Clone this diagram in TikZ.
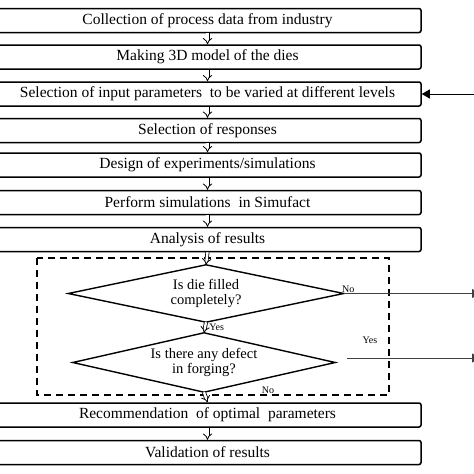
\documentclass[tikz,border=0pt]{standalone}
\usepackage{fontspec}
\setmainfont{Liberation Serif}
\usetikzlibrary{arrows.meta}
\begin{document}
\begin{tikzpicture}[x=1pt,y=-1pt,
  stepbox/.style={draw, line width=1.5pt, rounded corners=2pt, minimum width=427pt, minimum height=24pt, inner sep=0pt, font=\fontsize{15.5}{17}\selectfont},
  decision/.style={rectangle, inner sep=0pt, align=center, font=\fontsize{14.5}{15}\selectfont},
  hollow/.style={double, double distance=2.4pt, line width=0.8pt, -{Implies[length=1.6pt,width=5pt]}},
  outarrow/.style={line width=1pt, draw=black!75, -{Triangle[length=8pt,width=9pt]}},
  lbl/.style={font=\fontsize{10}{11}\selectfont, inner sep=1pt}]
\useasboundingbox (0,0) rectangle (474,474);
\clip (0,0) rectangle (474,474);
\fill[white] (0,0) rectangle (474,474);
\node[stepbox] (b1) at (207.5,20.5) {Collection of process data from industry};
\node[stepbox] (b2) at (207.5,57) {Making 3D model of the dies};
\node[stepbox] (b3) at (207.5,94) {Selection of input parameters\ \ to be varied at different levels};
\node[stepbox] (b4) at (207.5,130.5) {Selection of responses};
\node[stepbox] (b5) at (207.5,165) {Design of experiments/simulations};
\node[stepbox] (b6) at (207.5,202.5) {Perform simulations\ \ in Simufact};
\node[stepbox] (b7) at (207.5,239.5) {Analysis of results};
\node[stepbox] (b8) at (207.5,415) {Recommendation\ \ of optimal\ \ parameters};
\node[stepbox] (b9) at (207.5,452.5) {Validation of results};
\draw[line width=1.3pt, dash pattern=on 7pt off 5pt] (37,258) rectangle (389,395);
\node[decision, minimum width=275pt, minimum height=57pt] (d1) at (206,293.5) {Is die filled\\completely?};
\node[decision, minimum width=262pt, minimum height=59pt] (d2) at (204,362.5) {Is there any defect\\in forging?};
\draw[line width=1.4pt, line join=miter] (d1.west) -- (d1.north) -- (d1.east) -- (d1.south) -- cycle;
\draw[line width=1.4pt, line join=miter] (d2.west) -- (d2.north) -- (d2.east) -- (d2.south) -- cycle;
\foreach \a/\b in {b1/b2,b2/b3,b3/b4,b4/b5,b5/b6,b6/b7} \draw[hollow] (\a.south) -- (\b.north);
\draw[hollow] (b7.south) -- (d1.north);
\draw[hollow] (d1.south) -- (d2.north) node[lbl, midway, right=3pt] {Yes};
\draw[hollow] (d2.south) -- (b8.north);
\draw[hollow] (b8.south) -- (b9.north);
\node[lbl] (no2) at (268,390) {No};
\node[lbl, anchor=south west] (no1) at (341,294) {No};
\node[lbl] (yes2) at (370,340) {Yes};
\coordinate (e1) at (480,293.5);
\coordinate (s2) at (347,358);
\coordinate (e2) at (480,358);
\coordinate (f3) at (480,94);
\draw[outarrow] (d1.east) -- (e1);
\draw[outarrow] (s2) -- (e2);
\draw[outarrow, draw=black] (f3) -- (b3.east);
\end{tikzpicture}
\end{document}
